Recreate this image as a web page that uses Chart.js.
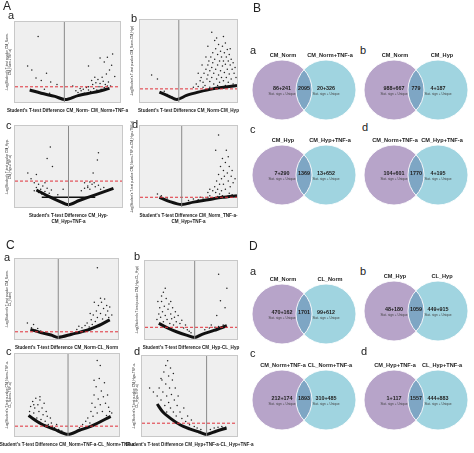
<!DOCTYPE html>
<html><head><meta charset="utf-8">
<script src="https://cdn.jsdelivr.net/npm/chart.js@4"></script>
<style>
body{margin:0;width:474px;height:453px;background:#fff;position:relative;overflow:hidden;font-family:"Liberation Sans",Arial,sans-serif}
.t{position:absolute;white-space:nowrap;color:#222;line-height:1}
.c{transform:translateX(-50%)}
canvas{position:absolute}
.plot{background:#efefef;outline:1px solid #c8c8c8}
</style></head><body>
<script>
// ---- volcano data (x,y as percent of plot range) ----
const aaV=[[14,15],[25,11],[38,7],[48,3],[60,8],[75,12],[90,17]];
const aaP=[[60,12],[63,14],[66,11],[70,15],[72,13],[75,17],[78,15],[80,19],[82,16],[85,18],[88,20],[70,19],[74,22],[77,24],[81,23],[84,26],[86,22],[89,25],[91,20],[68,18],[65,16],[62,17],[79,28],[83,31],[87,35],[90,40],[92,46],[85,50],[88,56],[81,55],[76,31],[73,27],[95,32],[93,60],[70,45],[18,14],[22,12],[28,16],[33,11],[20,30],[25,27],[30,36],[34,25],[40,22],[16,40],[22,82],[12,45],[55,20],[58,14]];
const abV=[[20,12],[30,7],[38,3],[48,8],[60,12],[75,16],[100,20]];
const abP=[[22,11],[25,13],[28,9],[18,28],[12,33],[33,6],[55,18],[58,22],[60,19],[62,26],[63,30],[65,24],[66,35],[67,20],[68,40],[69,28],[70,45],[70,33],[71,50],[72,38],[72,25],[73,55],[74,42],[74,30],[75,60],[75,48],[76,35],[76,22],[77,52],[78,65],[78,40],[79,28],[80,58],[80,45],[81,70],[81,33],[82,50],[82,24],[83,62],[83,38],[84,55],[84,30],[85,68],[85,44],[86,50],[86,26],[87,60],[87,36],[88,72],[88,46],[89,55],[89,30],[90,64],[90,40],[91,50],[91,24],[92,58],[92,34],[93,45],[94,52],[94,28],[95,40],[96,48],[96,22],[97,35],[98,42],[99,30],[74,85],[79,78],[86,80],[93,65],[64,45],[60,35],[68,55],[70,68],[77,75],[65,18],[72,18],[80,20],[88,20],[95,20]];
const acV=[[20,21],[30,14],[40,8],[50,3],[60,8],[75,15],[92,23]];
const acF=[[25,12],[75,12]];
const acP=[[18,20],[20,24],[22,18],[24,22],[26,26],[28,19],[30,23],[32,17],[34,21],[25,16],[22,28],[28,30],[15,35],[18,30],[20,40],[12,42],[30,60],[33,74],[35,50],[45,22],[40,15],[62,20],[65,23],[68,26],[70,22],[72,28],[75,25],[78,27],[80,22],[83,24],[86,20],[74,30],[70,31],[77,58],[73,42],[78,67],[68,24],[65,30]];
const adV=[[20,12],[30,7],[43,3],[55,6],[70,9],[85,12],[100,14]];
const adP=[[50,8],[55,10],[60,9],[65,11],[70,12],[75,11],[80,13],[85,14],[90,13],[95,15],[62,12],[72,14],[82,16],[92,17],[22,14],[18,16],[28,11],[75,20],[77,25],[78,18],[79,32],[80,22],[81,40],[82,28],[83,50],[84,35],[84,20],[85,60],[86,45],[86,28],[87,38],[88,55],[88,22],[89,70],[90,42],[91,32],[92,50],[93,25],[94,38],[95,45],[96,30],[98,35],[81,89],[78,70],[91,62],[70,18],[72,22]];
const caV=[[15,12],[25,8],[35,5],[42,2],[55,6],[70,11],[80,16],[92,24]];
const caP=[[16,14],[20,11],[22,13],[18,18],[12,20],[25,10],[28,8],[65,14],[68,17],[70,20],[72,15],[74,24],[75,18],[76,30],[78,22],[79,35],[80,27],[81,42],[82,18],[83,32],[84,46],[85,25],[86,38],[87,50],[88,30],[89,42],[90,35],[91,27],[92,40],[83,51],[80,89],[77,46],[73,32],[60,12],[62,16],[94,30]];
const cbV=[[15,20],[25,14],[35,9],[45,5],[54,2],[62,6],[75,11],[89,17]];
const cbP=[[13,25],[15,32],[16,40],[17,28],[18,48],[19,35],[20,60],[20,22],[21,42],[22,30],[23,52],[24,25],[25,38],[26,45],[27,20],[28,32],[29,26],[30,40],[31,18],[32,28],[33,35],[34,22],[35,15],[36,30],[38,20],[40,24],[42,14],[44,18],[46,12],[48,10],[50,8],[22,65],[18,55],[14,48],[28,48],[65,12],[70,14],[72,18],[76,15],[80,16],[85,18],[80,83],[89,65],[82,49],[87,40],[78,30]];
const ccV=[[13,25],[25,15],[38,8],[51,2],[62,7],[75,13],[92,24]];
const ccP=[[14,30],[15,36],[17,42],[18,28],[19,34],[20,46],[21,22],[22,38],[23,30],[24,44],[25,20],[26,34],[27,26],[28,40],[29,18],[30,30],[31,24],[32,14],[34,22],[35,16],[36,12],[38,10],[40,14],[42,8],[45,6],[24,48],[18,38],[62,10],[65,14],[68,18],[70,22],[72,16],[73,30],[74,40],[75,24],[76,50],[77,35],[78,60],[79,28],[80,45],[81,70],[82,38],[83,55],[84,30],[85,48],[86,65],[87,40],[88,25],[89,50],[90,35],[91,30],[79,92],[82,86],[76,68],[93,28]];
const cdV=[[16,40],[22,30],[30,22],[40,14],[50,9],[60,5],[68,2],[78,6],[89,10]];
const cdP=[[16,50],[18,60],[20,45],[21,70],[22,55],[23,80],[24,38],[25,65],[26,50],[27,94],[28,75],[28,42],[29,60],[30,85],[30,35],[31,52],[32,70],[33,30],[34,45],[35,60],[36,25],[37,38],[38,50],[40,30],[42,22],[44,35],[46,18],[48,25],[50,14],[52,20],[55,12],[58,10],[62,8],[20,72],[25,88],[33,78],[8,60],[12,55],[26,30],[19,35],[72,8],[76,10],[80,11],[84,12],[88,11],[85,10]];
// thresholds: vertical zero line x, significance line y
const vLines=[47,40,50,43,42,54,51,68];
const sigLines=[19,16,32,12,9,15,12,16];
const xTitles=["Student's T-test Difference CM_Norm- CM_Norm+TNF-a","Student's T-test Difference CM_Norm-CM_Hyp","Student's T-test Difference CM_Hyp-<br>CM_Hyp+TNF-a","Student's T-test Difference CM_Norm_TNF-a-<br>CM_Hyp+TNF-a","Student's T-test Difference CM_Norm-CL_Norm","Student's T-test Difference CM_Hyp-CL_Hyp","Student's T-test Difference CM_Norm+TNF-a-CL_Norm+TNF-a","Student's T-test Difference CM_Hyp+TNF-a-CL_Hyp+TNF-a"];
const yTitles=["-Log(Student's T-test p-value CM_Norm-<br>CM_Norm+TNF-a)","-Log(Student's T-test p-value CM_Norm-CM_Hyp)","-Log(Student's T-test p-value CM_Hyp-<br>CM_Hyp+TNF-a)","-Log(Student's T-test p-value CM_Norm+TNF-a-CM_Hyp+TNF-a)","-Log(Student's T-test p-value CM_Norm-<br>CL_Norm)","-Log(Student's T-test p-value CM_Hyp-CL_Hyp)","-Log(Student's T-test p-value CM_Norm+TNF-a-<br>CL_Norm+TNF-a)","-Log(Student's T-test p-value CM_Hyp+TNF-a-<br>CL_Hyp+TNF-a)"];
// ---- venn data ----
const vennLeft=["CM_Norm","CM_Norm","CM_Hyp","CM_Norm+TNF-a","CM_Norm","CM_Hyp","CM_Norm+TNF-a","CM_Hyp+TNF-a"];
const vennRight=["CM_Norm+TNF-a","CM_Hyp","CM_Hyp+TNF-a","CM_Hyp+TNF-a","CL_Norm","CL_Hyp","CL_Norm+TNF-a","CL_Hyp+TNF-a"];
const vennLeftVal=["86+241","988+667","7+290","104+601","470+162","48+180","212+174","1+117"];
const vennShared=["2095","779","1369","1770","1701","1059","1893","1557"];
const vennRightVal=["20+326","4+187","13+652","4+195","99+612","449+915","310+485","444+883"];

const volc=[aaV,abV,acV,adV,caV,cbV,ccV,cdV], pts=[aaP,abP,acP,adP,caP,cbP,ccP,cdP];
const boxes=[[15,22,105,80],[140,20,97,82],[15,126,107,81],[140,126,97,81],[15,259,103,80],[145,261,92,78],[15,354,104,82],[142,356,95,80]];
function txt(html,x,y,size,bold,center,extra){const d=document.createElement('div');d.className='t'+(center?' c':'');d.innerHTML=html;d.style.left=x+'px';d.style.top=y+'px';d.style.fontSize=size+'px';if(bold)d.style.fontWeight='bold';if(extra)Object.assign(d.style,extra);document.body.appendChild(d);return d;}
const xy=a=>a.map(p=>({x:p[0],y:p[1]}));
boxes.forEach((b,i)=>{
  const cv=document.createElement('canvas');cv.className='plot';cv.width=b[2];cv.height=b[3];cv.style.left=b[0]+'px';cv.style.top=b[1]+'px';cv.style.width=b[2]+'px';cv.style.height=b[3]+'px';document.body.appendChild(cv);
  const ds=[
    {type:'line',data:[{x:vLines[i],y:0},{x:vLines[i],y:100}],borderColor:'#8a8a8a',borderWidth:1,pointRadius:0},
    {type:'line',data:[{x:0,y:sigLines[i]},{x:100,y:sigLines[i]}],borderColor:'#e0303a',borderWidth:1,borderDash:[3,2],pointRadius:0},
    {type:'line',data:xy(volc[i]),borderColor:'#111',borderWidth:3,pointRadius:0,tension:0.3},
    {type:'scatter',data:xy(pts[i]),backgroundColor:'#222',borderWidth:0,pointRadius:0.75}];
  if(i===2) ds.push({type:'line',data:xy(acF),borderColor:'#111',borderWidth:1.5,pointRadius:0});
  new Chart(cv,{type:'scatter',data:{datasets:ds},options:{responsive:false,animation:false,events:[],layout:{padding:0,autoPadding:false},plugins:{legend:{display:false},tooltip:{enabled:false}},scales:{x:{type:'linear',display:false,min:0,max:100},y:{type:'linear',display:false,min:0,max:100}}}});
  txt(xTitles[i],b[0]+b[2]/2,b[1]+b[3]+6,4.6,true,true,{textAlign:'center',lineHeight:'1.3'});
  txt(yTitles[i],b[0]-9,b[1]+b[3]/2,3.2,false,false,{textAlign:'center',transformOrigin:'0 0',transform:'rotate(-90deg) translateX(-50%)'});
});
// letters
[['A',3,0,12],['B',253,2,12],['C',6,239,12],['D',249,240,12]].forEach(l=>txt(l[0],l[1],l[2],l[3],false,false));
[['a',8,10],['b',131,13],['c',6,120],['d',132,119],['a',4,252],['b',134,251],['c',6,346],['d',134,346],['a',250,45],['b',360,45],['c',250,124],['d',362,122],['a',250,266],['b',360,266],['c',250,348],['d',361,346]].forEach(l=>txt(l[0],l[1],l[2],11,false,false));

// venn chart
const vennCx=[282,394,282,394,282,394,282,394];
const vennCy=[90,90,175,175,314,311,400,400];
const cv=document.createElement('canvas');cv.width=237;cv.height=453;cv.style.left='237px';cv.style.top='0px';cv.style.width='237px';cv.style.height='453px';document.body.appendChild(cv);
const overlap={id:'ov',afterDatasetsDraw(ch){const c=ch.ctx,L=ch.getDatasetMeta(0).data,R=ch.getDatasetMeta(1).data;
  L.forEach((l,i)=>{const r=R[i];c.save();c.beginPath();c.arc(l.x,l.y,30,0,7);c.clip();c.beginPath();c.arc(r.x,r.y,30,0,7);c.fillStyle='#7ea6c4';c.fill();c.restore();
  c.save();c.strokeStyle='rgba(255,255,255,0.9)';c.lineWidth=1;c.beginPath();c.arc(l.x,l.y,30,0,7);c.stroke();c.beginPath();c.arc(r.x,r.y,30,0,7);c.stroke();c.restore();});}};
new Chart(cv,{type:'bubble',data:{datasets:[
  {data:vennCx.map((x,i)=>({x:x,y:vennCy[i],r:30})),backgroundColor:'#b7a4c9',borderWidth:0},
  {data:vennCx.map((x,i)=>({x:x+44,y:vennCy[i],r:30})),backgroundColor:'#a0d4e0',borderWidth:0}]},
  options:{responsive:false,animation:false,events:[],layout:{padding:0,autoPadding:false},plugins:{legend:{display:false},tooltip:{enabled:false}},scales:{x:{type:'linear',display:false,min:237,max:474},y:{type:'linear',display:false,min:0,max:453,reverse:true}}},plugins:[overlap]});
vennCx.forEach((x,i)=>{const y=vennCy[i];
  txt(vennLeft[i],x+1,y-37,5.6,true,true);txt(vennRight[i],x+48,y-37,5.6,true,true);
  txt(vennLeftVal[i],x,y-4,5.4,true,true);txt(vennShared[i],x+22,y-4,5.4,true,true);txt(vennRightVal[i],x+44,y-4,5.4,true,true);
  txt('Stat. sign + Unique',x,y+3,3.2,false,true,{color:'#444'});txt('Stat. sign + Unique',x+44,y+3,3.2,false,true,{color:'#444'});
});
</script>
</body></html>
